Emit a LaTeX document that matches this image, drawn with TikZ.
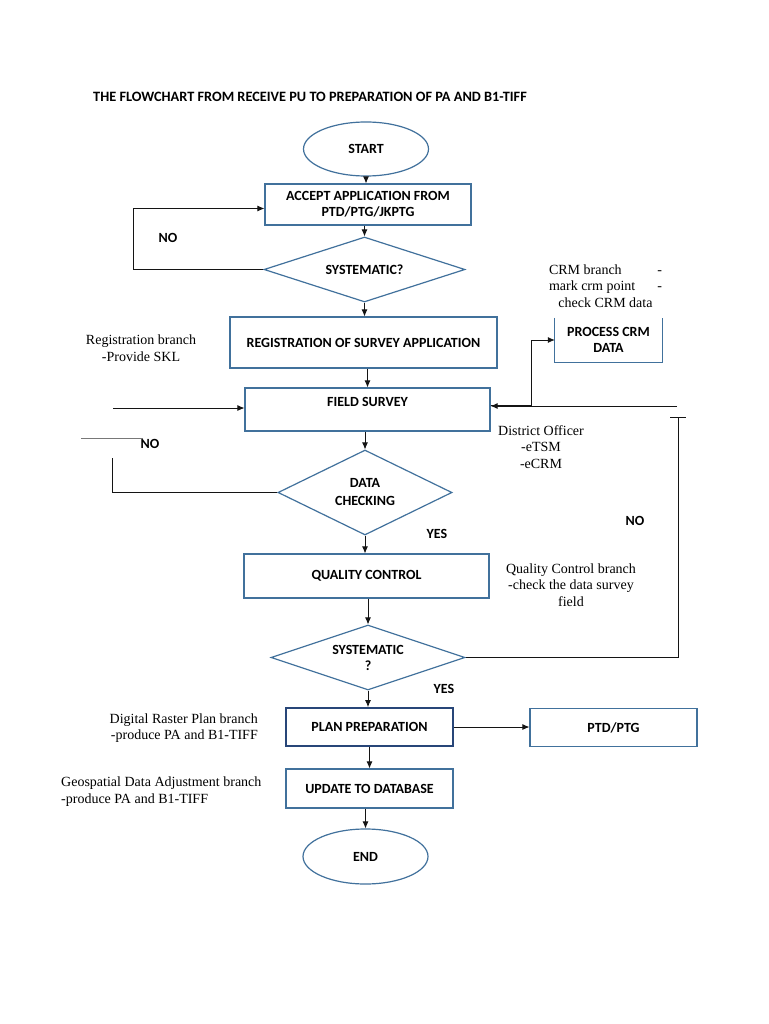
\documentclass[tikz,border=0pt]{standalone}
\usepackage{fontspec}
\setmainfont{Liberation Serif}
\newfontfamily\boxfont{Carlito}
\usetikzlibrary{arrows.meta,positioning,shapes.geometric}
\definecolor{flowBlue}{RGB}{65, 113, 156}
\definecolor{flowNavy}{RGB}{40, 70, 120}
\definecolor{inkLine}{RGB}{20, 20, 20}
\definecolor{inkGray}{RGB}{120, 120, 120}

\begin{document}
\begin{tikzpicture}[x=1pt, y=-1pt,
    capfont/.style={font=\boxfont\bfseries\fontsize{14pt}{16pt}\selectfont},
    procbox/.style={capfont, draw=flowBlue, line width=1.2pt, fill=white, inner sep=0pt, align=center},
    decision/.style={capfont, diamond, shape aspect=2.5, draw=flowBlue, line width=1.2pt, fill=white, inner sep=0pt, align=center},
    terminal/.style={capfont, ellipse, draw=flowBlue, line width=1.2pt, fill=white, inner sep=0pt},
    note/.style={font=\fontsize{14pt}{16.5pt}\selectfont, inner sep=0pt},
    flowline/.style={draw=inkLine, line width=0.8pt},
    flowarrow/.style={flowline, -{Latex[length=7pt,width=6pt]}}]
    \useasboundingbox[fill=white] (0,0) rectangle (768,1024);

    % title
    \node[capfont, font=\boxfont\bfseries\fontsize{14.3pt}{16pt}\selectfont, anchor=west, inner sep=0pt] (title) at (93,97) {THE FLOWCHART FROM RECEIVE PU TO PREPARATION OF PA AND B1-TIFF};

    % main column
    \node[terminal, minimum width=125, minimum height=54] (start) at (366,149) {START};
    \node[procbox, minimum width=206, minimum height=41] (accept) at (368,204.5) {ACCEPT APPLICATION FROM\\PTD/PTG/JKPTG};
    \node[decision, minimum width=201, minimum height=65] (sys1) at (364.5,269.5) {SYSTEMATIC?};
    \node[procbox, minimum width=267, minimum height=51] (reg) at (363.5,342.5) {REGISTRATION OF SURVEY APPLICATION};
    \node[procbox, text depth=16pt, minimum width=245, minimum height=43] (fs) at (367.5,409.5) {FIELD SURVEY};
    \node[decision, font=\boxfont\bfseries\fontsize{14pt}{18pt}\selectfont, minimum width=174, minimum height=85] (dc) at (365,492.5) {DATA\\CHECKING};
    \node[procbox, minimum width=245, minimum height=44] (qc) at (366.5,576) {QUALITY CONTROL};
    \node[decision, minimum width=194, minimum height=65] (sys2) at (368,657.5) {SYSTEMATIC\\?};
    \node[procbox, draw=flowNavy, line width=1.8pt, minimum width=167, minimum height=38] (plan) at (369.5,727) {PLAN PREPARATION};
    \node[procbox, minimum width=167, minimum height=39] (upd) at (369.5,788.5) {UPDATE TO DATABASE};
    \node[terminal, minimum width=125, minimum height=55] (finish) at (365.5,856.5) {END};

    % side boxes
    \node[capfont, align=center, minimum width=107, minimum height=44, inner sep=0pt] (pcrm) at (608.5,340) {PROCESS CRM\\DATA};
    \draw[draw=flowBlue, line width=1.2pt] (pcrm.north west) |- (pcrm.south east) -- (pcrm.north east);
    \node[procbox, minimum width=167, minimum height=38] (ptd) at (613.5,727.5) {PTD/PTG};

    % notes
    \node[note, align=center] (regNote) at (141,348) {Registration branch\\-Provide SKL};
    \node[note, align=center] (crmNote) at (605.5,286) {\makebox[113pt]{CRM branch\hfill-}\\\makebox[113pt]{mark crm point\hfill-}\\check CRM data};
    \node[note, align=center] (doNote) at (541,447) {District Officer\\-eTSM\\-eCRM};
    \node[note, align=center] (qcNote) at (571,585) {Quality Control branch\\-check the data survey\\field};
    \node[note, align=right, anchor=east] (drpNote) at (258,728) {Digital Raster Plan branch\\-produce PA and B1-TIFF};
    \node[note, align=left, anchor=west] (gdaNote) at (61,791.5) {Geospatial Data Adjustment branch\\-produce PA and B1-TIFF};

    % yes / no labels
    \node[capfont] (noTop) at (168,238) {NO};
    \node[capfont] (noLeft) at (150,444) {NO};
    \node[capfont] (noRight) at (635,521) {NO};
    \node[capfont] (yesDc) at (437,534) {YES};
    \node[capfont] (yesSys) at (444,689) {YES};

    % loose ends
    \coordinate (loopX) at (133,0);
    \coordinate (crmX) at (531,0);
    \coordinate (retIn) at (677,406);
    \coordinate (retEnd) at (678,417);
    \coordinate (leftIn) at (113,408);
    \coordinate (leftEnd) at (112,458);
    \coordinate (stubA) at (81,438);
    \coordinate (stubB) at (143,438);

    % connectors
    \draw[flowarrow] (start.south) -- (start.south |- accept.north);
    \draw[flowarrow] (sys1.north |- accept.south) -- (sys1.north);
    \draw[flowarrow] (sys1.west) -- (sys1.west -| loopX) |- ([yshift=-4pt]accept.west);
    \draw[flowarrow] (sys1.south) -- (sys1.south |- reg.north);
    \draw[flowarrow] (fs.north |- reg.south) -- (fs.north);
    \draw[flowarrow] ([yshift=4pt]fs.east) -| (crmX |- pcrm.west) -- (pcrm.west);
    \draw[flowarrow] (retIn) -- (retIn -| fs.east);
    \draw[flowline] (sys2.east) -- (sys2.east -| retEnd) -- (retEnd);
    \draw[flowline] ([xshift=-8pt]retEnd) -- ([xshift=8pt]retEnd);
    \draw[flowarrow] (leftIn) -- (leftIn -| fs.west);
    \draw[flowline] (dc.west) -| (leftEnd);
    \draw[flowline, draw=inkGray] (stubA) -- (stubB);
    \draw[flowarrow] (dc.north |- fs.south) -- (dc.north);
    \draw[flowarrow] (dc.south) -- (dc.south |- qc.north);
    \draw[flowarrow] (sys2.north |- qc.south) -- (sys2.north);
    \draw[flowarrow] (sys2.south) -- (sys2.south |- plan.north);
    \draw[flowarrow] (plan.east) -- (plan.east -| ptd.west);
    \draw[flowarrow] (plan.south) -- (upd.north);
    \draw[flowarrow] (finish.north |- upd.south) -- (finish.north);
\end{tikzpicture}
\end{document}
